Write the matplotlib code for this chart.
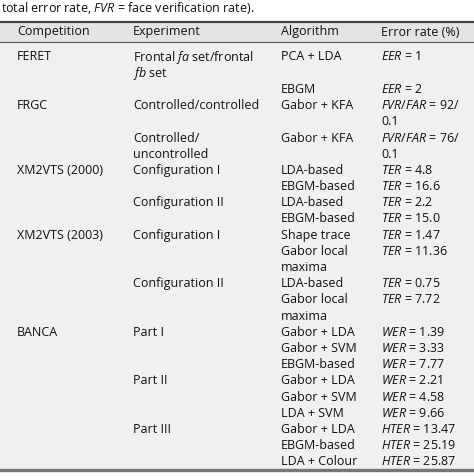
import matplotlib
matplotlib.use("Agg")
import matplotlib.pyplot as plt
from matplotlib.patches import Rectangle

plt.rcParams['mathtext.fontset'] = 'custom'
plt.rcParams['mathtext.rm'] = 'Open Sans'
plt.rcParams['mathtext.it'] = 'Open Sans:italic'
plt.rcParams['font.family'] = 'Open Sans'

caption = r"total error rate, $\mathit{FVR}$ = face verification rate)."
headers = ["Competition", "Experiment", "Algorithm", "Error rate (%)"]
competition = ["FERET", "", "FRGC", "", "XM2VTS (2000)", "", "", "", "XM2VTS (2003)", "", "", "",
               "BANCA", "", "", "", "", "", "", "", ""]
experiment = [r"Frontal $\mathit{fa}$ set/frontal" + "\n" + r"$\mathit{fb}$ set", "", "Controlled/controlled",
              "Controlled/\nuncontrolled", "Configuration I", "", "Configuration II", "",
              "Configuration I", "", "Configuration II", "",
              "Part I", "", "", "Part II", "", "", "Part III", "", ""]
algorithm = ["PCA + LDA", "EBGM", "Gabor + KFA", "Gabor + KFA", "LDA-based", "EBGM-based", "LDA-based",
             "EBGM-based", "Shape trace", "Gabor local\nmaxima", "LDA-based", "Gabor local\nmaxima",
             "Gabor + LDA", "Gabor + SVM", "EBGM-based", "Gabor + LDA", "Gabor + SVM", "LDA + SVM",
             "Gabor + LDA", "EBGM-based", "LDA + Colour"]
error = [r"$\mathit{EER}$ = 1", r"$\mathit{EER}$ = 2", r"$\mathit{FVR/FAR}$ = 92/" + "\n0.1",
         r"$\mathit{FVR/FAR}$ = 76/" + "\n0.1", r"$\mathit{TER}$ = 4.8", r"$\mathit{TER}$ = 16.6",
         r"$\mathit{TER}$ = 2.2", r"$\mathit{TER}$ = 15.0", r"$\mathit{TER}$ = 1.47",
         r"$\mathit{TER}$ = 11.36", r"$\mathit{TER}$ = 0.75", r"$\mathit{TER}$ = 7.72",
         r"$\mathit{WER}$ = 1.39", r"$\mathit{WER}$ = 3.33", r"$\mathit{WER}$ = 7.77",
         r"$\mathit{WER}$ = 2.21", r"$\mathit{WER}$ = 4.58", r"$\mathit{WER}$ = 9.66",
         r"$\mathit{HTER}$ = 13.47", r"$\mathit{HTER}$ = 25.19", r"$\mathit{HTER}$ = 25.87"]

W, H = 474, 476
fig = plt.figure(figsize=(W/100, H/100), dpi=100)
ax = fig.add_axes([0, 0, 1, 1])
ax.set_xlim(0, W); ax.set_ylim(H, 0); ax.axis('off')

fs = 9
colx = [17, 133, 281, 381]
ax.add_patch(Rectangle((0, 22), W, 20, color='#e4e4e4', lw=0))
ax.add_patch(Rectangle((0, 42), W, 427, color='#f0f0f0', lw=0))
ax.plot([0, W], [21.5, 21.5], color='#444444', lw=1.6)
ax.plot([0, W], [42, 42], color='#555555', lw=0.8)
ax.plot([0, W], [469.5, 469.5], color='#777777', lw=2.4)

ax.text(1, 8, caption, fontsize=fs, va='center', ha='left', color='#111111')
for x, h in zip(colx, headers):
    ax.text(x, 32, h, fontsize=fs, va='center', ha='left', color='#111111')

lh = 16.2
y = 57
for i in range(len(algorithm)):
    cells = [competition[i], experiment[i], algorithm[i], error[i]]
    nl = max(c.count("\n") + 1 for c in cells)
    for x, c in zip(colx, cells):
        for k, line in enumerate(c.split("\n")):
            if line:
                ax.text(x, y + k*lh, line, fontsize=fs, va='center', ha='left', color='#111111')
    y += nl*lh

fig.savefig("out.png", dpi=100)
